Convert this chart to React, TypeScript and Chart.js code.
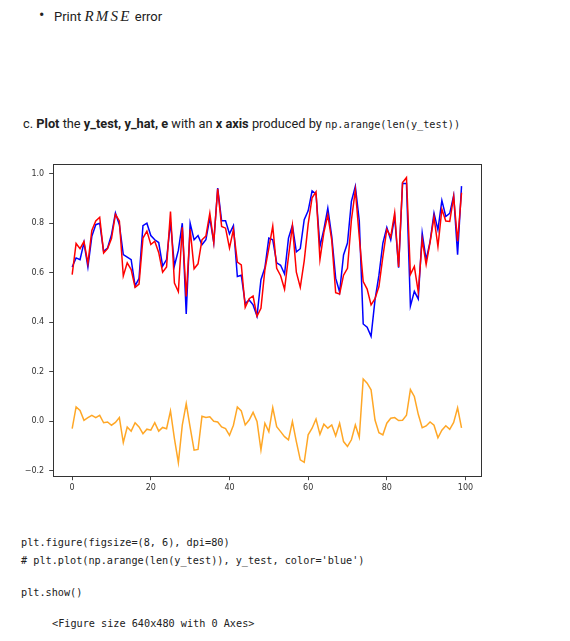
import React, { useEffect, useRef } from "react";
import { Chart, registerables } from "chart.js";

Chart.register(...registerables);

const yTest = [
  0.623, 0.660, 0.653, 0.722, 0.623, 0.747, 0.794, 0.800, 0.686, 0.700,
  0.754, 0.841, 0.794, 0.673, 0.663, 0.653, 0.547, 0.577, 0.790, 0.800,
  0.750, 0.733, 0.722, 0.627, 0.653, 0.805, 0.628, 0.690, 0.800, 0.433,
  0.800, 0.733, 0.750, 0.713, 0.733, 0.822, 0.722, 0.942, 0.810, 0.810,
  0.757, 0.790, 0.585, 0.590, 0.475, 0.490, 0.470, 0.425, 0.572, 0.620,
  0.740, 0.733, 0.640, 0.630, 0.595, 0.740, 0.791, 0.684, 0.697, 0.814,
  0.850, 0.931, 0.918, 0.706, 0.775, 0.861, 0.747, 0.578, 0.522, 0.672,
  0.720, 0.888, 0.949, 0.810, 0.393, 0.380, 0.343, 0.490, 0.590, 0.720,
  0.783, 0.733, 0.827, 0.620, 0.960, 0.960, 0.465, 0.525, 0.494, 0.760,
  0.652, 0.726, 0.841, 0.773, 0.892, 0.827, 0.840, 0.912, 0.673, 0.950,
];

const yHat = [
  0.592, 0.718, 0.697, 0.726, 0.638, 0.771, 0.809, 0.824, 0.680, 0.697,
  0.738, 0.836, 0.809, 0.587, 0.640, 0.613, 0.541, 0.554, 0.740, 0.768,
  0.714, 0.727, 0.682, 0.602, 0.623, 0.847, 0.558, 0.523, 0.784, 0.504,
  0.775, 0.616, 0.636, 0.733, 0.748, 0.840, 0.722, 0.939, 0.787, 0.780,
  0.700, 0.774, 0.643, 0.632, 0.460, 0.495, 0.506, 0.424, 0.456, 0.612,
  0.698, 0.788, 0.618, 0.588, 0.533, 0.665, 0.790, 0.602, 0.541, 0.648,
  0.795, 0.903, 0.927, 0.653, 0.763, 0.833, 0.732, 0.519, 0.514, 0.590,
  0.618, 0.813, 0.934, 0.745, 0.564, 0.534, 0.470, 0.495, 0.544, 0.665,
  0.775, 0.745, 0.842, 0.623, 0.964, 0.984, 0.593, 0.625, 0.522, 0.734,
  0.633, 0.723, 0.825, 0.706, 0.856, 0.809, 0.807, 0.907, 0.727, 0.923,
];

const errors = [
  -0.030, 0.058, 0.044, 0.004, 0.015, 0.024, 0.015, 0.024, -0.006, -0.003,
  -0.016, -0.005, 0.015, -0.086, -0.023, -0.040, -0.006, -0.023, -0.050, -0.032,
  -0.036, -0.006, -0.040, -0.025, -0.030, 0.042, -0.070, -0.167, -0.016, 0.071,
  -0.025, -0.117, -0.114, 0.020, 0.015, 0.018, 0.000, -0.003, -0.023, -0.030,
  -0.057, -0.016, 0.058, 0.042, -0.015, 0.005, 0.036, -0.001, -0.116, -0.008,
  -0.042, 0.055, -0.022, -0.042, -0.062, -0.075, -0.001, -0.082, -0.156, -0.166,
  -0.055, -0.028, 0.009, -0.053, -0.012, -0.028, -0.015, -0.059, -0.008, -0.082,
  -0.102, -0.075, -0.015, -0.065, 0.171, 0.154, 0.127, 0.005, -0.046, -0.055,
  -0.008, 0.012, 0.015, 0.003, 0.004, 0.024, 0.128, 0.100, 0.028, -0.026,
  -0.019, -0.003, -0.016, -0.067, -0.036, -0.018, -0.033, -0.005, 0.054, -0.027,
];

const xTicks = [0, 20, 40, 60, 80, 100];
const yTicks = [-0.2, 0.0, 0.2, 0.4, 0.6, 0.8, 1.0];

const framePlugin = {
  id: "frame",
  afterDatasetsDraw(chart: any) {
    const { ctx, chartArea } = chart;
    ctx.save();
    ctx.strokeStyle = "#333";
    ctx.lineWidth = 1;
    ctx.strokeRect(
      Math.round(chartArea.left) + 0.5,
      Math.round(chartArea.top) + 0.5,
      Math.round(chartArea.right - chartArea.left),
      Math.round(chartArea.bottom - chartArea.top)
    );
    ctx.restore();
  },
};

function ErrorChart() {
  const ref = useRef<HTMLCanvasElement | null>(null);
  useEffect(() => {
    if (!ref.current) return;
    const toXY = (arr: number[]) => arr.map((v, i) => ({ x: i, y: v }));
    const chart = new Chart(ref.current, {
      type: "line",
      data: {
        datasets: [
          { label: "y_hat", data: toXY(yHat), borderColor: "#ff0000", borderWidth: 1.5, pointRadius: 0, tension: 0, order: 1 },
          { label: "y_test", data: toXY(yTest), borderColor: "#0000ff", borderWidth: 1.5, pointRadius: 0, tension: 0, order: 2 },
          { label: "e", data: toXY(errors), borderColor: "#ffa726", borderWidth: 1.5, pointRadius: 0, tension: 0, order: 3 },
        ],
      },
      options: {
        animation: false,
        responsive: false,
        events: [],
        layout: { padding: { left: 0, right: 19, top: 14.3, bottom: 0 } },
        plugins: { legend: { display: false }, tooltip: { enabled: false } },
        scales: {
          x: {
            type: "linear",
            min: -4.95,
            max: 103.95,
            afterBuildTicks: (scale: any) => {
              scale.ticks = xTicks.map((v) => ({ value: v }));
            },
            afterFit: (scale: any) => {
              scale.height = 23.3;
            },
            border: { display: false },
            grid: { drawOnChartArea: false, drawTicks: true, tickLength: 3.5, color: "#444", tickWidth: 1 },
            ticks: {
              autoSkip: false,
              maxRotation: 0,
              padding: 3,
              color: "#333",
              font: { family: "DejaVu Sans", size: 8 },
              callback: (v: any) => String(v),
            },
          },
          y: {
            type: "linear",
            min: -0.224,
            max: 1.038,
            afterBuildTicks: (scale: any) => {
              scale.ticks = yTicks.map((v) => ({ value: v }));
            },
            afterFit: (scale: any) => {
              scale.width = 52.7;
            },
            border: { display: false },
            grid: { drawOnChartArea: false, drawTicks: true, tickLength: 3.5, color: "#444", tickWidth: 1 },
            ticks: {
              autoSkip: false,
              padding: 5,
              color: "#333",
              font: { family: "DejaVu Sans", size: 8 },
              callback: (v: any) => {
                const n = Number(v);
                const s = Math.abs(n).toFixed(1);
                return n < -1e-9 ? "\u2212" + s : s;
              },
            },
          },
        },
      },
      plugins: [framePlugin],
    });
    return () => chart.destroy();
  }, []);
  return <canvas ref={ref} width={500} height={350} style={{ width: 500, height: 350, display: "block" }} />;
}

const textColor = "#212121";
const sans = "Roboto, 'Noto Sans', sans-serif";
const mono = "'DejaVu Sans Mono', 'Liberation Mono', monospace";

export default function App() {
  return (
    <div
      style={{
        position: "absolute",
        left: 0,
        top: 0,
        width: 570,
        height: 641,
        background: "#fff",
        overflow: "hidden",
        color: textColor,
      }}
    >
      <div style={{ position: "absolute", left: 39, top: 6, lineHeight: "18px", fontFamily: sans, fontSize: 16 }}>
        •
      </div>
      <div style={{ position: "absolute", left: 54, top: 7, lineHeight: "18px", fontFamily: sans, fontSize: 13, whiteSpace: "nowrap" }}>
        Print{" "}
        <span style={{ fontFamily: "'Liberation Serif', serif", fontStyle: "italic", fontSize: 15, letterSpacing: 2.2 }}>RMSE</span>{" "}
        error
      </div>

      <div style={{ position: "absolute", left: 23, top: 115, lineHeight: "18px", fontFamily: sans, fontSize: 12.8, whiteSpace: "nowrap" }}>
        c. <b>Plot</b> the <b>y_test, y_hat, e</b> with an <b>x axis</b> produced by{" "}
        <span style={{ fontFamily: mono, fontSize: 10.2 }}>np.arange(len(y_test))</span>
      </div>

      <div style={{ position: "absolute", left: 0, top: 150, width: 500, height: 350 }}>
        <ErrorChart />
      </div>

      <div style={{ position: "absolute", left: 21, top: 534, fontFamily: mono, fontSize: 10.2, lineHeight: "17.7px", whiteSpace: "pre" }}>
        {"plt.figure(figsize=(8, 6), dpi=80)\n# plt.plot(np.arange(len(y_test)), y_test, color='blue')"}
      </div>
      <div style={{ position: "absolute", left: 21, top: 583.5, fontFamily: mono, fontSize: 10.2, lineHeight: "17.7px", whiteSpace: "pre" }}>
        {"plt.show()"}
      </div>
      <div style={{ position: "absolute", left: 52, top: 614.5, fontFamily: mono, fontSize: 10.2, lineHeight: "17.7px", whiteSpace: "pre" }}>
        {"<Figure size 640x480 with 0 Axes>"}
      </div>
    </div>
  );
}
